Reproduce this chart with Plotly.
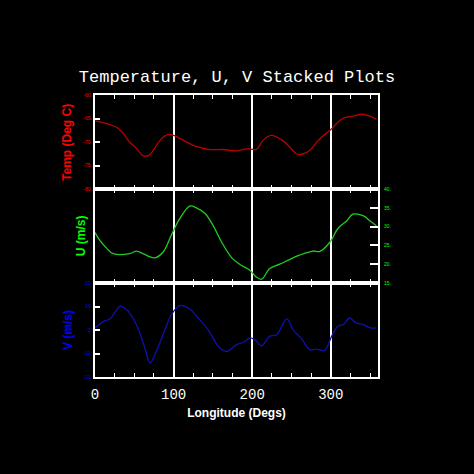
import plotly.graph_objects as go
from plotly.subplots import make_subplots

# values
lon_t = [0, 15, 27, 36, 44, 53, 61, 68, 74, 83, 93, 100, 112, 125, 146, 163, 180, 188, 195, 205,
         214, 224, 237, 248, 256, 265, 273, 286, 299, 315, 328, 339, 350, 358]
temp = [-65.5, -66.1, -66.8, -68.2, -70.0, -71.4, -72.9, -72.9, -71.8, -69.6, -68.4, -68.6, -69.6,
        -70.7, -71.6, -71.6, -71.9, -71.6, -71.4, -71.6, -69.6, -68.6, -69.5, -71.1, -72.5, -72.5,
        -71.8, -69.3, -67.5, -65.0, -64.5, -64.1, -64.5, -65.2]

lon_u = [0, 6, 15, 23, 44, 53, 61, 76, 87, 97, 108, 121, 129, 140, 150, 161, 174, 184, 197, 205,
         212, 222, 235, 248, 260, 277, 286, 299, 309, 320, 328, 341, 350, 358]
u = [28.4, 26.4, 24.2, 22.8, 22.8, 23.5, 22.8, 21.7, 23.3, 27.7, 32.2, 35.5, 35.0, 33.5, 30.4,
     25.9, 21.7, 20.0, 18.4, 16.6, 16.0, 18.8, 20.0, 21.3, 22.4, 23.5, 23.4, 25.9, 29.5, 31.5,
     33.3, 32.9, 31.5, 30.2]

lon_v = [0, 11, 19, 32, 40, 49, 57, 64, 70, 78, 89, 97, 108, 121, 133, 144, 157, 167, 180, 189,
         197, 203, 212, 222, 231, 244, 252, 263, 273, 282, 292, 301, 309, 316, 324, 332, 341, 350, 358]
v = [0.9, 3.7, 4.7, 10.1, 8.7, 4.7, -1.3, -8.4, -14.0, -9.1, 0.1, 6.5, 10.4, 8.7, 4.4, 0.1, -7.0,
     -9.1, -6.2, -5.2, -3.4, -4.1, -6.7, -2.7, -2.0, 4.7, 0.1, -3.8, -8.4, -8.1, -8.7, -2.7, 1.6,
     2.3, 5.1, 3.0, 2.3, 0.9, 0.9]

x_ticks = [0, 100, 200, 300]
t_ticks = [-60, -65, -70, -75, -80]
u_ticks = [40, 35, 30, 25, 20, 15]
v_ticks = [20, 10, 0, -10, -20]

fig = make_subplots(rows=3, cols=1, shared_xaxes=True, vertical_spacing=0)

fig.add_trace(go.Scatter(x=lon_t, y=temp, mode="lines", line=dict(color="#b80000", width=1.3, shape="spline")), row=1, col=1)
fig.add_trace(go.Scatter(x=lon_u, y=u, mode="lines", line=dict(color="#22cc22", width=1.3, shape="spline")), row=2, col=1)
fig.add_trace(go.Scatter(x=lon_v, y=v, mode="lines", line=dict(color="#1010b0", width=1.3, shape="spline")), row=3, col=1)

for r in (1, 2, 3):
    fig.update_xaxes(
        range=[0, 360], tickvals=x_ticks, ticks="inside", ticklen=0,
        showgrid=True, gridcolor="white", gridwidth=2,
        showline=True, linecolor="white", linewidth=2, mirror="allticks",
        minor=dict(dtick=25, tick0=0, ticks="inside", ticklen=4, tickcolor="white", showgrid=False),
        zeroline=False, showticklabels=(r == 3), ticklabelstandoff=3,
        tickfont=dict(family="Liberation Mono", size=14, color="white"),
        row=r, col=1)

fig.update_xaxes(title=dict(text="<b>Longitude (Degs)</b>", font=dict(family="Liberation Sans", size=12, color="white"), standoff=7), row=3, col=1)

yfont = dict(family="Liberation Sans", size=12)
fig.update_yaxes(range=[-80, -60], tickvals=t_ticks, ticktext=[str(t) + "." for t in t_ticks],
                 ticks="inside", ticklen=5, tickcolor="white", tickwidth=1.5,
                 tickfont=dict(size=5, color="#ff0000", family="Liberation Sans"),
                 row=1, col=1)
fig.update_yaxes(range=[15, 40], tickvals=u_ticks, ticktext=[str(t) + "." for t in u_ticks], side="right",
                 ticks="inside", ticklen=8, tickcolor="white", tickwidth=1.5, ticklabelstandoff=3,
                 tickfont=dict(size=5, color="#00ff00", family="Liberation Sans"),
                 row=2, col=1)
fig.update_yaxes(range=[-20, 20], tickvals=v_ticks, ticktext=[str(t) + "." for t in v_ticks],
                 ticks="inside", ticklen=5, tickcolor="white", tickwidth=1.5,
                 tickfont=dict(size=5, color="#0000ff", family="Liberation Sans"),
                 row=3, col=1)
fig.update_yaxes(showgrid=False, zeroline=False, showline=True, linecolor="white", linewidth=2, mirror=True)

# y titles as rotated labels left of the frame
for txt, col, xp, yp in [("Temp (Deg C)", "#ff0000", -0.099, 5 / 6),
                         ("U (m/s)", "#00ff00", -0.049, 0.5),
                         ("V (m/s)", "#0000ff", -0.095, 1 / 6)]:
    fig.add_annotation(text="<b>" + txt + "</b>", xref="paper", yref="paper", x=xp, y=yp,
                       xanchor="center", yanchor="middle", textangle=-90, showarrow=False,
                       font=dict(color=col, **yfont))

fig.update_layout(
    width=474, height=474, showlegend=False,
    paper_bgcolor="black", plot_bgcolor="black",
    margin=dict(l=95, r=96, t=95, b=97),
    title=dict(text="Temperature, U, V Stacked Plots", x=0.5, xanchor="center", y=0.84, yanchor="middle",
               font=dict(family="Liberation Mono", size=17, color="white")),
)

fig.write_html("out.html", config={"displayModeBar": False},
               post_script="document.body.style.margin='0';document.body.style.background='black';")
